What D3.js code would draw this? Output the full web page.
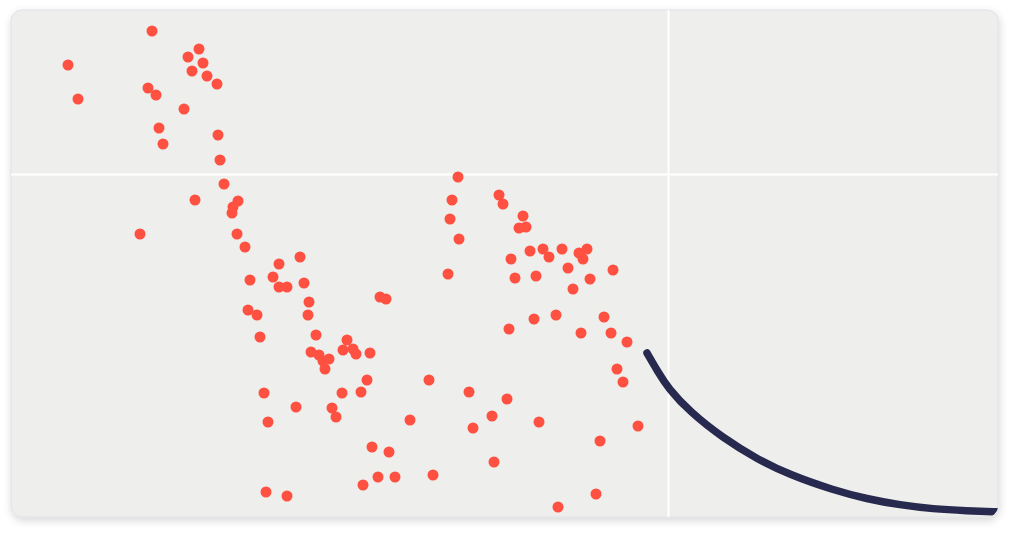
<!DOCTYPE html>
<html>
<head>
<meta charset="utf-8">
<script src="https://cdn.jsdelivr.net/npm/d3@7"></script>
<style>
  html, body { margin: 0; padding: 0; background: #ffffff; }
  svg { display: block; }
</style>
</head>
<body>
<svg id="chart" width="1024" height="539"></svg>
<script>
// Scatter points (x, y) in data units
const pointX = [-51.6,-60.0,-59.0,-46.9,-48.0,-46.5,-47.6,-46.1,-45.1,-52.0,-51.2,-48.4,-50.9,-45.0,-50.5,-44.8,-44.4,-47.3,-43.0,-43.5,-43.6,-52.8,-43.1,-42.3,-36.8,-38.9,-41.8,-39.5,-38.9,-38.1,-36.4,-35.9,-36.0,-42.0,-41.1,-28.8,-28.2,-40.8,-35.2,-32.1,-35.7,-34.9,-33.9,-34.5,-34.3,-32.5,-31.5,-31.2,-29.8,-30.1,-30.7,-32.6,-23.9,-40.4,-37.2,-33.6,-33.2,-40.0,-25.8,-19.9,-16.1,-17.6,-19.5,-29.6,-27.9,-29.0,-27.3,-30.5,-23.5,-17.4,-40.2,-38.1,-21.0,-21.6,-21.8,-20.9,-22.0,-16.9,-16.5,-14.5,-14.9,-14.2,-13.8,-12.5,-11.9,-10.6,-8.9,-8.1,-8.5,-15.7,-15.3,-13.2,-10.0,-7.8,-9.5,-5.5,-15.9,-13.4,-11.2,-8.7,-6.4,-5.7,-4.1,-5.1,-4.5,-12.9,-6.8,-3.0,-7.2,-11.0];
const pointY = [14.3,10.9,7.5,12.5,11.7,11.1,10.3,9.8,9.0,8.6,7.9,6.5,4.6,3.9,3.0,1.4,-1.0,-2.6,-2.7,-3.3,-3.9,-6.0,-6.0,-7.3,-8.3,-9.0,-10.6,-10.3,-11.3,-11.3,-10.9,-12.8,-14.1,-13.6,-14.1,-12.3,-12.5,-16.3,-16.1,-16.6,-17.8,-18.1,-18.5,-18.7,-19.5,-17.6,-17.5,-18.0,-17.9,-20.6,-21.8,-21.9,-20.6,-21.9,-23.3,-23.4,-24.3,-24.8,-24.6,-21.8,-22.5,-24.2,-25.4,-27.3,-27.8,-30.3,-30.3,-31.1,-30.1,-28.8,-31.8,-32.2,-0.3,-2.6,-4.5,-6.5,-10.0,-2.1,-3.0,-4.2,-5.4,-5.3,-7.7,-7.5,-8.3,-7.5,-7.9,-7.5,-8.5,-8.5,-10.4,-10.2,-9.4,-10.5,-11.5,-9.6,-15.5,-14.5,-14.1,-15.9,-14.3,-15.9,-16.8,-19.5,-20.8,-24.8,-26.7,-25.2,-32.0,-33.3];

// Curve series
const curveX = [-2.1, -1.0, 0, 2.2, 5.5, 8.9, 12.2, 16.5, 19.9, 23.2, 26.5, 29.9, 32.9, 33.6];
const curveY = [-17.9, -19.8, -21.4, -23.8, -26.4, -28.5, -30.1, -31.6, -32.5, -33.1, -33.5, -33.68, -33.78, -33.8];

// Gridline tick values
const xTicks = [0];
const yTicks = [0];

const xDomain = [-65.7, 33.0];
const yDomain = [-34.3, 16.4];

const card = { x: 11, y: 10, w: 987, h: 507, r: 11 };

const svg = d3.select("#chart");
const defs = svg.append("defs");

const filter = defs.append("filter").attr("id", "shadow")
  .attr("x", "-5%").attr("y", "-5%").attr("width", "110%").attr("height", "115%");
filter.append("feDropShadow")
  .attr("dx", 1).attr("dy", 3).attr("stdDeviation", 4)
  .attr("flood-color", "#000").attr("flood-opacity", 0.16);

defs.append("clipPath").attr("id", "cardClip")
  .append("rect")
  .attr("x", card.x).attr("y", card.y)
  .attr("width", card.w).attr("height", card.h)
  .attr("rx", card.r).attr("ry", card.r);

svg.append("rect")
  .attr("x", card.x).attr("y", card.y)
  .attr("width", card.w).attr("height", card.h)
  .attr("rx", card.r).attr("ry", card.r)
  .attr("fill", "#eeeeec")
  .attr("stroke", "#dce1e5")
  .attr("stroke-width", 1)
  .attr("filter", "url(#shadow)");

const x = d3.scaleLinear().domain(xDomain).range([card.x, card.x + card.w]);
const y = d3.scaleLinear().domain(yDomain).range([card.y + card.h, card.y]);

const g = svg.append("g").attr("clip-path", "url(#cardClip)");

// Gridlines via axes
const gx = g.append("g")
  .attr("transform", `translate(0,${card.y + card.h})`)
  .call(d3.axisBottom(x).tickValues(xTicks).tickSize(-card.h).tickFormat(""));
const gy = g.append("g")
  .attr("transform", `translate(${card.x},0)`)
  .call(d3.axisLeft(y).tickValues(yTicks).tickSize(-card.w).tickFormat(""));
[gx, gy].forEach(a => {
  a.select(".domain").remove();
  a.selectAll(".tick line").attr("stroke", "#ffffff").attr("stroke-width", 2);
});

// Points
const points = pointX.map((v, i) => ({ x: v, y: pointY[i] }));
g.append("g").selectAll("circle")
  .data(points)
  .join("circle")
  .attr("cx", d => x(d.x))
  .attr("cy", d => y(d.y))
  .attr("r", 5.5)
  .attr("fill", "#ff5141");

// Curve
const curve = curveX.map((v, i) => ({ x: v, y: curveY[i] }));
g.append("path")
  .datum(curve)
  .attr("fill", "none")
  .attr("stroke", "#272a4e")
  .attr("stroke-width", 7.5)
  .attr("stroke-linecap", "round")
  .attr("stroke-linejoin", "round")
  .attr("d", d3.line().x(d => x(d.x)).y(d => y(d.y)).curve(d3.curveBasis));
</script>
</body>
</html>
